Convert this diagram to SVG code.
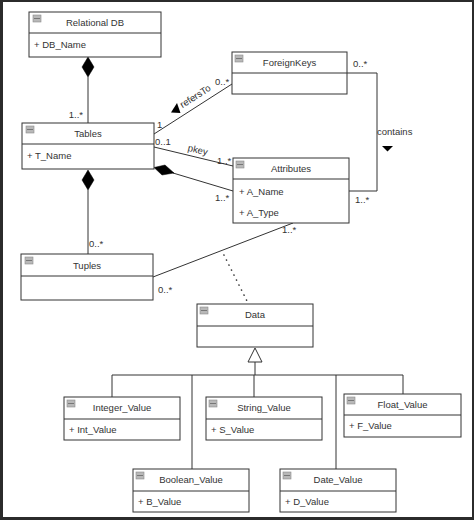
<svg xmlns="http://www.w3.org/2000/svg" width="474" height="520" viewBox="0 0 474 520">
<defs>
<style>
.box{fill:#fff;stroke:#333;stroke-width:1}
.div{stroke:#333;stroke-width:1}
.t{font-family:"Liberation Sans",Arial,sans-serif;font-size:9.5px;fill:#333}
.c{text-anchor:middle}
.ln{fill:none;stroke:#333;stroke-width:1}
.ic{fill:#b8b8b8;stroke:#8a8a8a;stroke-width:0.6}
.icl{stroke:#777;stroke-width:1}
.dia{fill:#000;stroke:#000;stroke-width:0.5}
</style>
<g id="icon"><rect class="ic" x="0" y="0" width="8" height="7"/><line class="icl" x1="1" y1="3.5" x2="7" y2="3.5"/></g>
</defs>
<rect x="0" y="0" width="474" height="520" fill="#2b2b2b"/>
<rect x="3" y="2" width="469" height="515" fill="#fff"/>

<g id="connectors">
<!-- RelDB - Tables -->
<line class="ln" x1="88" y1="77" x2="88" y2="123"/>
<polygon class="dia" points="88,57 94,67 88,77 82,67"/>
<text class="t" x="83" y="118" text-anchor="end">1..*</text>
<!-- refersTo -->
<line class="ln" x1="154" y1="134" x2="232" y2="84"/>
<text class="t" x="157" y="128">1</text>
<text class="t" x="215" y="85">0..*</text>
<text class="t c" transform="translate(197,99) rotate(-32.7)">refersTo</text>
<polygon fill="#000" points="177,103 171,112.5 180.5,113"/>
<!-- pkey -->
<line class="ln" x1="154" y1="147" x2="233" y2="166"/>
<text class="t" x="155" y="145">0..1</text>
<text class="t c" transform="translate(197,153) rotate(13.5)">pkey</text>
<text class="t" x="217" y="164">1..*</text>
<!-- Tables - Attributes composition -->
<line class="ln" x1="173" y1="173" x2="233" y2="191"/>
<polygon class="dia" points="154,167.5 165,165 174,173 162,175"/>
<text class="t" x="215" y="201">1..*</text>
<!-- contains -->
<polyline class="ln" points="347,73 377,73 377,191 349,191"/>
<text class="t" x="353" y="67">0..*</text>
<text class="t" x="377" y="135">contains</text>
<polygon fill="#000" points="382,146 393,146 387.5,151.5"/>
<text class="t" x="355" y="203">1..*</text>
<!-- Tables - Tuples -->
<line class="ln" x1="88" y1="190" x2="88" y2="254"/>
<polygon class="dia" points="88,170 94,180 88,190 82,180"/>
<text class="t" x="89" y="247">0..*</text>
<!-- Tuples - Attributes -->
<line class="ln" x1="153" y1="277" x2="293" y2="223"/>
<text class="t" x="158" y="293">0..*</text>
<text class="t" x="282" y="233">1..*</text>
<!-- dotted association class link -->
<line x1="224" y1="255" x2="248" y2="303" stroke="#333" stroke-width="1.6" stroke-dasharray="0.1 5.5" stroke-linecap="round"/>
<!-- generalization -->
<polygon points="255,348 262,362 248,362" fill="#fff" stroke="#333" stroke-width="1"/>
<line class="ln" x1="255" y1="362" x2="255" y2="375"/>
<line class="ln" x1="112" y1="375" x2="403" y2="375"/>
<line class="ln" x1="112" y1="375" x2="112" y2="397"/>
<line class="ln" x1="192" y1="375" x2="192" y2="469"/>
<line class="ln" x1="254" y1="375" x2="254" y2="397"/>
<line class="ln" x1="336" y1="375" x2="336" y2="469"/>
<line class="ln" x1="403" y1="375" x2="403" y2="394"/>
</g>

<g id="relational-db">
<rect class="box" x="29" y="12" width="132" height="45"/>
<line class="div" x1="29" y1="33" x2="161" y2="33"/>
<use href="#icon" x="33" y="15"/>
<text class="t c" x="95" y="26">Relational DB</text>
<text class="t" x="34" y="48">+ DB_Name</text>
</g>

<g id="tables">
<rect class="box" x="22" y="123" width="132" height="46"/>
<line class="div" x1="22" y1="144" x2="154" y2="144"/>
<use href="#icon" x="26" y="126"/>
<text class="t c" x="88" y="137">Tables</text>
<text class="t" x="27" y="159">+ T_Name</text>
</g>

<g id="foreignkeys">
<rect class="box" x="232" y="52" width="115" height="42"/>
<line class="div" x1="232" y1="73" x2="347" y2="73"/>
<use href="#icon" x="235" y="55"/>
<text class="t c" x="289.5" y="66">ForeignKeys</text>
</g>

<g id="attributes">
<rect class="box" x="233" y="158" width="116" height="65"/>
<line class="div" x1="233" y1="179" x2="349" y2="179"/>
<use href="#icon" x="236" y="161"/>
<text class="t c" x="291" y="172">Attributes</text>
<text class="t" x="239" y="195">+ A_Name</text>
<text class="t" x="239" y="216">+ A_Type</text>
</g>

<g id="tuples">
<rect class="box" x="21" y="254" width="132" height="46"/>
<line class="div" x1="21" y1="276" x2="153" y2="276"/>
<use href="#icon" x="25" y="257"/>
<text class="t c" x="87" y="269">Tuples</text>
</g>

<g id="data">
<rect class="box" x="197" y="304" width="116" height="43"/>
<line class="div" x1="197" y1="326" x2="313" y2="326"/>
<use href="#icon" x="200" y="307"/>
<text class="t c" x="255" y="318">Data</text>
</g>

<g id="integer-value">
<rect class="box" x="64" y="397" width="116" height="43"/>
<line class="div" x1="64" y1="419" x2="180" y2="419"/>
<use href="#icon" x="67" y="400"/>
<text class="t c" x="122" y="411">Integer_Value</text>
<text class="t" x="69" y="433">+ Int_Value</text>
</g>

<g id="string-value">
<rect class="box" x="206" y="397" width="116" height="43"/>
<line class="div" x1="206" y1="419" x2="322" y2="419"/>
<use href="#icon" x="209" y="400"/>
<text class="t c" x="264" y="411">String_Value</text>
<text class="t" x="211" y="433">+ S_Value</text>
</g>

<g id="float-value">
<rect class="box" x="344" y="394" width="117" height="43"/>
<line class="div" x1="344" y1="415" x2="461" y2="415"/>
<use href="#icon" x="347" y="397"/>
<text class="t c" x="402.5" y="408">Float_Value</text>
<text class="t" x="349" y="429">+ F_Value</text>
</g>

<g id="boolean-value">
<rect class="box" x="133" y="469" width="116" height="43"/>
<line class="div" x1="133" y1="491" x2="249" y2="491"/>
<use href="#icon" x="136" y="472"/>
<text class="t c" x="191" y="483">Boolean_Value</text>
<text class="t" x="138" y="505">+ B_Value</text>
</g>

<g id="date-value">
<rect class="box" x="280" y="469" width="116" height="43"/>
<line class="div" x1="280" y1="491" x2="396" y2="491"/>
<use href="#icon" x="283" y="472"/>
<text class="t c" x="338" y="483">Date_Value</text>
<text class="t" x="285" y="505">+ D_Value</text>
</g>
</svg>
